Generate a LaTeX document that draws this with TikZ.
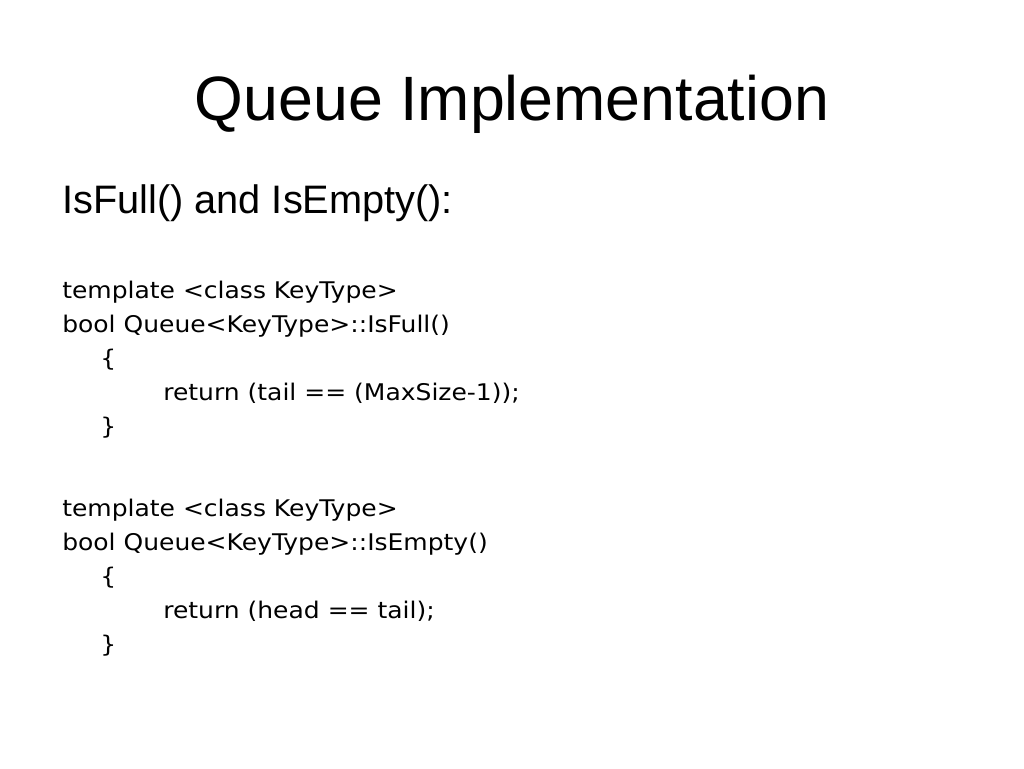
\documentclass[tikz,border=0pt]{standalone}
\usepackage{fontspec}
\setmainfont{Liberation Sans}
\newfontfamily\codefont[FakeStretch=1.09]{DejaVu Sans}
\begin{document}
\begin{tikzpicture}[x=0.75pt,y=-0.75pt,
  code/.style={anchor=base west,inner sep=0pt,font=\codefont\fontsize{17.2}{20}\selectfont}]
\useasboundingbox (0,0) rectangle (1024,768);
\node[anchor=base,inner sep=0pt,font=\fontsize{47}{54}\selectfont] (title) at (512,120) {Queue Implementation};
\node[anchor=base west,inner sep=0pt,font=\fontsize{29.8}{34}\selectfont] (sub) at (62,213) {IsFull() and IsEmpty():};
\node[code] (a1) at (62,298) {template <class KeyType>};
\node[code] (a2) at (62,332) {bool Queue<KeyType>::IsFull()};
\node[code] (a3) at (100,366) {\{};
\node[code] (a4) at (163,400) {return (tail == (MaxSize-1));};
\node[code] (a5) at (100,434) {\}};
\node[code] (b1) at (62,516) {template <class KeyType>};
\node[code] (b2) at (62,550) {bool Queue<KeyType>::IsEmpty()};
\node[code] (b3) at (100,584) {\{};
\node[code] (b4) at (163,618) {return (head == tail);};
\node[code] (b5) at (100,652) {\}};
\end{tikzpicture}
\end{document}
